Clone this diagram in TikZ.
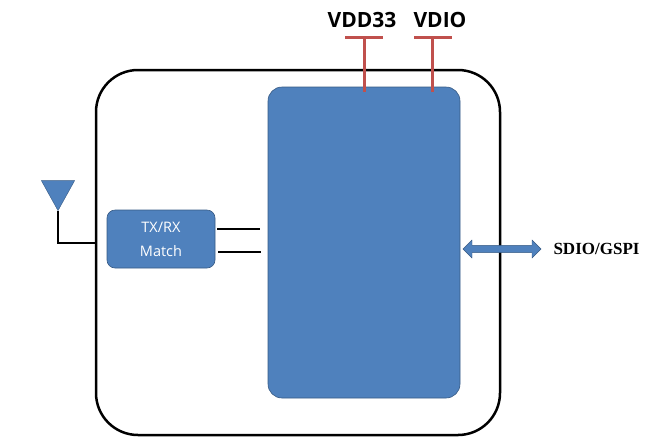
\documentclass[tikz,border=0pt]{standalone}
\usepackage{fontspec}
\setmainfont{Liberation Serif}
\newfontfamily\uifont{Open Sans}
\usetikzlibrary{arrows.meta,shapes.arrows,shapes.geometric}
\definecolor{blk}{HTML}{4F81BD}
\definecolor{pin}{HTML}{C0504D}
\begin{document}
\begin{tikzpicture}[x=1pt,y=-1pt,
  bluebox/.style={fill=blk,draw=blk!70!black,line width=0.6pt,rounded corners=14pt},
  pinline/.style={draw=pin,line width=3pt},
  wire/.style={draw=black,line width=2.2pt}]
\useasboundingbox (0,0) rectangle (666,440);
\draw[line width=2.5pt,rounded corners=42pt] (96,70) rectangle (500,435);
\node[bluebox,minimum width=192pt,minimum height=311pt,inner sep=0pt] (chip) at (364,242.5) {};
\node[bluebox,rounded corners=8pt,minimum width=108pt,minimum height=58pt,inner sep=0pt,align=center,text=white,font=\uifont\fontsize{14.5}{24}\selectfont] (match) at (161,239) {TX/RX\\Match};
% antenna
\node[fill=blk,draw=blk!70!black,isosceles triangle,shape border rotate=-90,isosceles triangle apex angle=58,minimum height=30pt,inner sep=0pt,anchor=apex] (ant) at (58,211) {};
\coordinate (bend) at (58,243);
\draw[wire] (ant.apex) -- (bend) -- (96,243);
% match to chip
\draw[wire] (217,229) -- (260,229);
\draw[wire] (218,252) -- (261,252);
% pins
\coordinate (p1) at (364,92); \coordinate (p1t) at (364,37);
\coordinate (p2) at (432,92); \coordinate (p2t) at (432,37);
\draw[pinline] (p1) -- (p1t); \draw[pinline] (345,37) -- (383,37);
\draw[pinline] (p2) -- (p2t); \draw[pinline] (414,37) -- (452,37);
\node[font=\uifont\bfseries\fontsize{21}{24}\selectfont] (v1) at (362,20) {VDD33};
\node[font=\uifont\bfseries\fontsize{21}{24}\selectfont] (v2) at (440,20) {VDIO};
% interface arrow
\node[double arrow,fill=blk,draw=blk!70!black,minimum height=78pt,minimum width=18pt,double arrow head extend=2.5pt,inner sep=1.5pt] (io) at (502,249) {};
\node[font=\bfseries\fontsize{17}{20}\selectfont,anchor=west] (sd) at (550,249) {SDIO/GSPI};
\end{tikzpicture}
\end{document}
